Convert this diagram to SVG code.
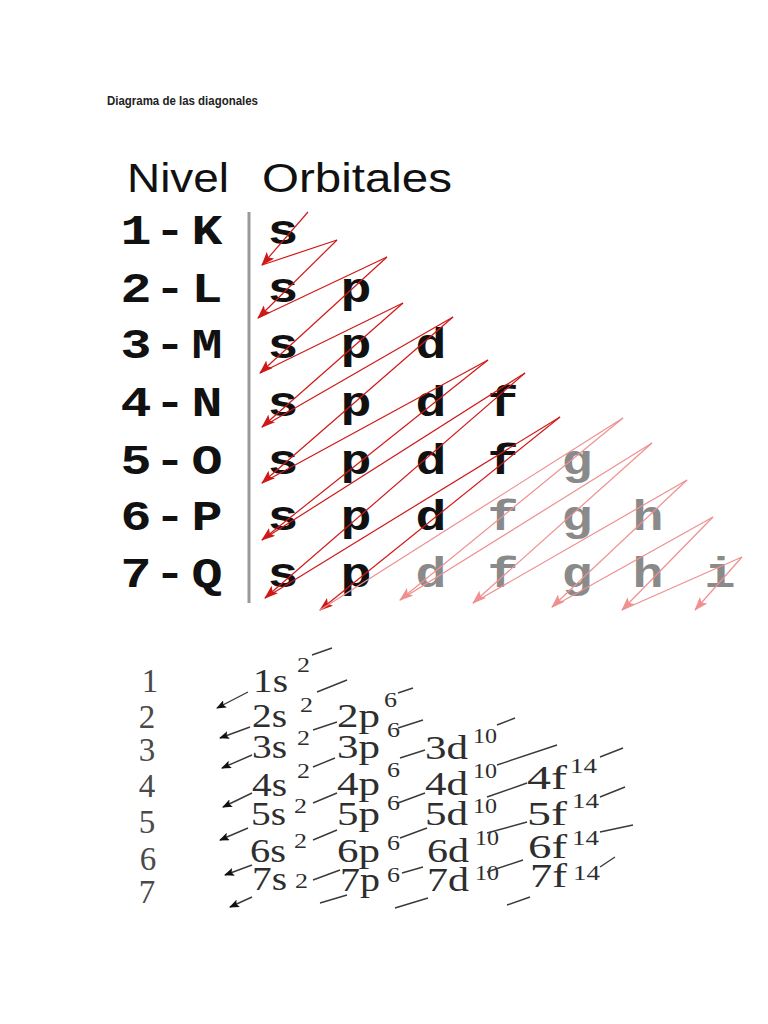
<svg xmlns="http://www.w3.org/2000/svg" width="768" height="1024" viewBox="0 0 768 1024">
<style>
.title{font-family:"Liberation Sans",Arial,sans-serif;font-size:12px;font-weight:bold;fill:#222;}
.head{font-family:"Liberation Sans",Arial,sans-serif;font-size:40px;fill:#111;}
.mono{font-family:"Liberation Mono","Courier New",monospace;font-size:43px;font-weight:bold;fill:#111;text-anchor:middle;}
.gray{fill:#8a8a8a;}
.dk{stroke:#d01818;stroke-width:1.2;fill:none;}
.pk{stroke:#ee9090;stroke-width:1.2;fill:none;}
.ser{font-family:"Liberation Serif","Times New Roman",serif;font-size:33px;fill:#2e2e2e;}
.sup{font-family:"Liberation Serif","Times New Roman",serif;font-size:20px;fill:#2e2e2e;}
.num{font-family:"Liberation Serif","Times New Roman",serif;font-size:33px;fill:#4a4a4a;text-anchor:middle;}
.seg{stroke:#3a3a3a;stroke-width:1.4;fill:none;}
</style>
<defs>
<marker id="ard" markerUnits="userSpaceOnUse" markerWidth="14" markerHeight="10" refX="13" refY="5" orient="auto" viewBox="0 0 14 10"><path d="M0,0 L14,5 L0,10 L3,5 z" fill="#d01818"/></marker>
<marker id="arp" markerUnits="userSpaceOnUse" markerWidth="14" markerHeight="10" refX="13" refY="5" orient="auto" viewBox="0 0 14 10"><path d="M0,0 L14,5 L0,10 L3,5 z" fill="#f09090"/></marker>
<marker id="ark" markerUnits="userSpaceOnUse" markerWidth="10" markerHeight="8" refX="9" refY="4" orient="auto" viewBox="0 0 10 8"><path d="M0,0 L10,4 L0,8 L2,4 z" fill="#111"/></marker>
</defs>
<rect width="768" height="1024" fill="#fff"/>
<text id="title" class="title" x="107" y="105" textLength="151" lengthAdjust="spacingAndGlyphs">Diagrama de las diagonales</text>

<g id="header">
<text class="head" x="127" y="192" textLength="102" lengthAdjust="spacingAndGlyphs">Nivel</text>
<text class="head" x="262" y="192" textLength="190" lengthAdjust="spacingAndGlyphs">Orbitales</text>
</g>
<line id="divider" x1="249" y1="212" x2="249" y2="603" stroke="#999" stroke-width="3"/>

<g id="table" transform="scale(1.2,1)">
<g id="levels">
<text class="mono" x="113.3 141.7 172.5" y="244">1-K</text>
<text class="mono" x="113.3 141.7 172.5" y="302">2-L</text>
<text class="mono" x="113.3 141.7 172.5" y="358">3-M</text>
<text class="mono" x="113.3 141.7 172.5" y="416">4-N</text>
<text class="mono" x="113.3 141.7 172.5" y="474">5-O</text>
<text class="mono" x="113.3 141.7 172.5" y="530">6-P</text>
<text class="mono" x="113.3 141.7 172.5" y="587">7-Q</text>
</g>
<g id="orbitals">
<text class="mono" x="235.8" y="244">s</text>
<text class="mono" x="235.8 296.7" y="302">sp</text>
<text class="mono" x="235.8 296.7 359.2" y="358">spd</text>
<text class="mono" x="235.8 296.7 359.2 419.2" y="416">spdf</text>
<text class="mono" x="235.8 296.7 359.2 419.2" y="474">spdf</text><text class="mono gray" x="480.8" y="474">g</text>
<text class="mono" x="235.8 296.7 359.2" y="530">spd</text><text class="mono gray" x="419.2 480.8 540" y="530">fgh</text>
<text class="mono" x="235.8 296.7" y="587">sp</text><text class="mono gray" x="359.2 419.2 480.8 540 600" y="587">dfghi</text>
</g>
</g>

<g id="diagonals">
<line class="dk" x1="308" y1="212" x2="262" y2="265" marker-end="url(#ard)"/>
<line class="dk" x1="262" y1="265" x2="337" y2="240"/>
<line class="dk" x1="337" y1="240" x2="258" y2="318" marker-end="url(#ard)"/>
<line class="dk" x1="258" y1="318" x2="387" y2="257"/>
<line class="dk" x1="387" y1="257" x2="260" y2="373" marker-end="url(#ard)"/>
<line class="dk" x1="260" y1="373" x2="403" y2="303"/>
<line class="dk" x1="403" y1="303" x2="262" y2="427" marker-end="url(#ard)"/>
<line class="dk" x1="262" y1="427" x2="453" y2="317"/>
<line class="dk" x1="453" y1="317" x2="262" y2="483" marker-end="url(#ard)"/>
<line class="dk" x1="262" y1="483" x2="488" y2="360"/>
<line class="dk" x1="488" y1="360" x2="262" y2="540" marker-end="url(#ard)"/>
<line class="dk" x1="262" y1="540" x2="525" y2="373"/>
<line class="dk" x1="525" y1="373" x2="265" y2="598" marker-end="url(#ard)"/>
<line class="dk" x1="265" y1="598" x2="560" y2="417"/>
<line class="dk" x1="560" y1="417" x2="320" y2="610" marker-end="url(#ard)"/>
<line class="pk" x1="320" y1="610" x2="623" y2="418"/>
<line class="pk" x1="623" y1="418" x2="400" y2="600" marker-end="url(#arp)"/>
<line class="pk" x1="400" y1="600" x2="652" y2="443"/>
<line class="pk" x1="652" y1="443" x2="473" y2="603" marker-end="url(#arp)"/>
<line class="pk" x1="473" y1="603" x2="687" y2="480"/>
<line class="pk" x1="687" y1="480" x2="552" y2="607" marker-end="url(#arp)"/>
<line class="pk" x1="552" y1="607" x2="713" y2="517"/>
<line class="pk" x1="713" y1="517" x2="622" y2="610" marker-end="url(#arp)"/>
<line class="pk" x1="622" y1="610" x2="742" y2="557"/>
<line class="pk" x1="742" y1="557" x2="695" y2="610" marker-end="url(#arp)"/>
</g>

<g id="levels-num">
<text class="num" x="150" y="692">1</text>
<text class="num" x="147" y="728">2</text>
<text class="num" x="147" y="761">3</text>
<text class="num" x="147" y="797">4</text>
<text class="num" x="147" y="833">5</text>
<text class="num" x="148" y="870">6</text>
<text class="num" x="147" y="903">7</text>
</g>

<g id="config">
<text class="ser" x="253" y="692" textLength="35" lengthAdjust="spacingAndGlyphs">1s</text><text class="sup" x="297" y="672" textLength="13" lengthAdjust="spacingAndGlyphs">2</text>
<text class="ser" x="252" y="727" textLength="35" lengthAdjust="spacingAndGlyphs">2s</text><text class="sup" x="300" y="712" textLength="13" lengthAdjust="spacingAndGlyphs">2</text>
<text class="ser" x="337" y="727" textLength="43" lengthAdjust="spacingAndGlyphs">2p</text><text class="sup" x="384" y="707" textLength="13" lengthAdjust="spacingAndGlyphs">6</text>
<text class="ser" x="252" y="758" textLength="35" lengthAdjust="spacingAndGlyphs">3s</text><text class="sup" x="297" y="745" textLength="13" lengthAdjust="spacingAndGlyphs">2</text>
<text class="ser" x="337" y="758" textLength="43" lengthAdjust="spacingAndGlyphs">3p</text><text class="sup" x="387" y="737" textLength="13" lengthAdjust="spacingAndGlyphs">6</text>
<text class="ser" x="425" y="759" textLength="43" lengthAdjust="spacingAndGlyphs">3d</text><text class="sup" x="473" y="743" textLength="24" lengthAdjust="spacingAndGlyphs">10</text>
<text class="ser" x="252" y="796" textLength="35" lengthAdjust="spacingAndGlyphs">4s</text><text class="sup" x="297" y="778" textLength="13" lengthAdjust="spacingAndGlyphs">2</text>
<text class="ser" x="337" y="795" textLength="43" lengthAdjust="spacingAndGlyphs">4p</text><text class="sup" x="387" y="777" textLength="13" lengthAdjust="spacingAndGlyphs">6</text>
<text class="ser" x="425" y="795" textLength="43" lengthAdjust="spacingAndGlyphs">4d</text><text class="sup" x="473" y="778" textLength="24" lengthAdjust="spacingAndGlyphs">10</text>
<text class="ser" x="527" y="789" textLength="40" lengthAdjust="spacingAndGlyphs">4f</text><text class="sup" x="570" y="773" textLength="27" lengthAdjust="spacingAndGlyphs">14</text>
<text class="ser" x="251" y="825" textLength="35" lengthAdjust="spacingAndGlyphs">5s</text><text class="sup" x="294" y="813" textLength="13" lengthAdjust="spacingAndGlyphs">2</text>
<text class="ser" x="337" y="825" textLength="43" lengthAdjust="spacingAndGlyphs">5p</text><text class="sup" x="387" y="810" textLength="13" lengthAdjust="spacingAndGlyphs">6</text>
<text class="ser" x="425" y="825" textLength="43" lengthAdjust="spacingAndGlyphs">5d</text><text class="sup" x="473" y="813" textLength="24" lengthAdjust="spacingAndGlyphs">10</text>
<text class="ser" x="527" y="825" textLength="40" lengthAdjust="spacingAndGlyphs">5f</text><text class="sup" x="572" y="808" textLength="27" lengthAdjust="spacingAndGlyphs">14</text>
<text class="ser" x="250" y="862" textLength="36" lengthAdjust="spacingAndGlyphs">6s</text><text class="sup" x="294" y="848" textLength="13" lengthAdjust="spacingAndGlyphs">2</text>
<text class="ser" x="337" y="862" textLength="43" lengthAdjust="spacingAndGlyphs">6p</text><text class="sup" x="387" y="850" textLength="13" lengthAdjust="spacingAndGlyphs">6</text>
<text class="ser" x="427" y="862" textLength="42" lengthAdjust="spacingAndGlyphs">6d</text><text class="sup" x="475" y="845" textLength="24" lengthAdjust="spacingAndGlyphs">10</text>
<text class="ser" x="528" y="858" textLength="39" lengthAdjust="spacingAndGlyphs">6f</text><text class="sup" x="572" y="845" textLength="27" lengthAdjust="spacingAndGlyphs">14</text>
<text class="ser" x="252" y="890" textLength="35" lengthAdjust="spacingAndGlyphs">7s</text><text class="sup" x="295" y="888" textLength="13" lengthAdjust="spacingAndGlyphs">2</text>
<text class="ser" x="340" y="891" textLength="40" lengthAdjust="spacingAndGlyphs">7p</text><text class="sup" x="387" y="882" textLength="13" lengthAdjust="spacingAndGlyphs">6</text>
<text class="ser" x="427" y="891" textLength="42" lengthAdjust="spacingAndGlyphs">7d</text><text class="sup" x="475" y="880" textLength="24" lengthAdjust="spacingAndGlyphs">10</text>
<text class="ser" x="530" y="887" textLength="37" lengthAdjust="spacingAndGlyphs">7f</text><text class="sup" x="573" y="880" textLength="27" lengthAdjust="spacingAndGlyphs">14</text>
</g>

<g id="config-connectors">
<line class="seg" x1="248" y1="692" x2="217" y2="708" marker-end="url(#ark)"/>
<line class="seg" x1="250" y1="727" x2="220" y2="738" marker-end="url(#ark)"/>
<line class="seg" x1="252" y1="755" x2="222" y2="768" marker-end="url(#ark)"/>
<line class="seg" x1="252" y1="793" x2="223" y2="807" marker-end="url(#ark)"/>
<line class="seg" x1="248" y1="828" x2="220" y2="840" marker-end="url(#ark)"/>
<line class="seg" x1="252" y1="865" x2="225" y2="875" marker-end="url(#ark)"/>
<line class="seg" x1="252" y1="897" x2="230" y2="907" marker-end="url(#ark)"/>
<path class="seg" d="M312,655L332,648 M317,692L347,680 M398,693L413,688 M313,730L337,722 M398,728L423,720 M497,725L515,718 M313,767L335,758 M400,758L425,750 M497,765L557,745 M600,757L623,748 M313,803L337,793 M398,803L425,793 M487,797L527,783 M600,797L625,787 M313,840L337,830 M400,838L427,828 M487,833L527,822 M600,832L633,825 M313,880L340,870 M402,873L423,867 M487,872L523,860 M600,867L615,857 M320,903L347,895 M395,908L428,898 M507,905L530,897"/>
</g>
</svg>
